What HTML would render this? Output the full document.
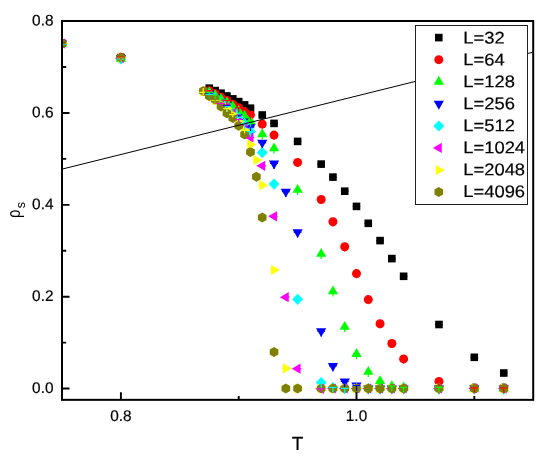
<!DOCTYPE html>
<html><head><meta charset="utf-8"><title>plot</title><style>html,body{margin:0;padding:0;background:#fff}</style></head><body>
<svg width="550" height="459" viewBox="0 0 550 459" style="display:block;font-family:'Liberation Sans',sans-serif">
<rect width="550" height="459" fill="#fff"/>
<defs><clipPath id="cp"><rect x="62" y="21" width="471.2" height="378.85"/></clipPath></defs>
<g clip-path="url(#cp)">
<g>
<rect x="58.2" y="39.5" width="7.6" height="7.6" fill="#000000"/>
<rect x="117.1" y="53.8" width="7.6" height="7.6" fill="#000000"/>
<rect x="205.45" y="84.4" width="7.6" height="7.6" fill="#000000"/>
<rect x="211.34" y="86.8" width="7.6" height="7.6" fill="#000000"/>
<rect x="217.23" y="89.4" width="7.6" height="7.6" fill="#000000"/>
<rect x="223.12" y="92.2" width="7.6" height="7.6" fill="#000000"/>
<rect x="229.01" y="95.1" width="7.6" height="7.6" fill="#000000"/>
<rect x="234.9" y="97.8" width="7.6" height="7.6" fill="#000000"/>
<rect x="240.79" y="101.1" width="7.6" height="7.6" fill="#000000"/>
<rect x="246.68" y="104.4" width="7.6" height="7.6" fill="#000000"/>
<rect x="258.46" y="111.2" width="7.6" height="7.6" fill="#000000"/>
<rect x="270.24" y="119.6" width="7.6" height="7.6" fill="#000000"/>
<rect x="293.8" y="137.6" width="7.6" height="7.6" fill="#000000"/>
<rect x="317.36" y="160.3" width="7.6" height="7.6" fill="#000000"/>
<rect x="329.14" y="173.3" width="7.6" height="7.6" fill="#000000"/>
<rect x="340.92" y="187.4" width="7.6" height="7.6" fill="#000000"/>
<rect x="352.7" y="202.6" width="7.6" height="7.6" fill="#000000"/>
<rect x="364.48" y="219.5" width="7.6" height="7.6" fill="#000000"/>
<rect x="376.26" y="236.8" width="7.6" height="7.6" fill="#000000"/>
<rect x="388.04" y="254.8" width="7.6" height="7.6" fill="#000000"/>
<rect x="399.82" y="272.5" width="7.6" height="7.6" fill="#000000"/>
<rect x="435.16" y="320.7" width="7.6" height="7.6" fill="#000000"/>
<rect x="470.5" y="353.5" width="7.6" height="7.6" fill="#000000"/>
<rect x="499.95" y="369.2" width="7.6" height="7.6" fill="#000000"/>
</g>
<g>
<circle cx="62" cy="43.3" r="4.5" fill="#ff0000"/>
<circle cx="120.9" cy="57.2" r="4.5" fill="#ff0000"/>
<circle cx="209.25" cy="90.7" r="4.5" fill="#ff0000"/>
<circle cx="215.14" cy="93.8" r="4.5" fill="#ff0000"/>
<circle cx="221.03" cy="97.2" r="4.5" fill="#ff0000"/>
<circle cx="226.92" cy="100.5" r="4.5" fill="#ff0000"/>
<circle cx="232.81" cy="104.2" r="4.5" fill="#ff0000"/>
<circle cx="238.7" cy="107.8" r="4.5" fill="#ff0000"/>
<circle cx="244.59" cy="111.5" r="4.5" fill="#ff0000"/>
<circle cx="250.48" cy="114.7" r="4.5" fill="#ff0000"/>
<circle cx="262.26" cy="124.1" r="4.5" fill="#ff0000"/>
<circle cx="274.04" cy="135.1" r="4.5" fill="#ff0000"/>
<circle cx="297.6" cy="162.4" r="4.5" fill="#ff0000"/>
<circle cx="321.16" cy="199.5" r="4.5" fill="#ff0000"/>
<circle cx="332.94" cy="221.8" r="4.5" fill="#ff0000"/>
<circle cx="344.72" cy="246.8" r="4.5" fill="#ff0000"/>
<circle cx="356.5" cy="273.6" r="4.5" fill="#ff0000"/>
<circle cx="368.28" cy="299.6" r="4.5" fill="#ff0000"/>
<circle cx="380.06" cy="323.7" r="4.5" fill="#ff0000"/>
<circle cx="391.84" cy="343.5" r="4.5" fill="#ff0000"/>
<circle cx="403.62" cy="358.9" r="4.5" fill="#ff0000"/>
<circle cx="438.96" cy="381.4" r="4.5" fill="#ff0000"/>
<circle cx="474.3" cy="387.8" r="4.5" fill="#ff0000"/>
<circle cx="503.75" cy="387.8" r="4.5" fill="#ff0000"/>
</g>
<g>
<polygon points="62,49.4 56.89,40.55 67.11,40.55" fill="#0000ff"/>
<polygon points="120.9,63.9 115.79,55.05 126.01,55.05" fill="#0000ff"/>
<polygon points="209.25,99.4 204.14,90.55 214.36,90.55" fill="#0000ff"/>
<polygon points="215.14,103.2 210.03,94.35 220.25,94.35" fill="#0000ff"/>
<polygon points="221.03,107.3 215.92,98.45 226.14,98.45" fill="#0000ff"/>
<polygon points="226.92,111.2 221.81,102.35 232.03,102.35" fill="#0000ff"/>
<polygon points="232.81,115.9 227.7,107.05 237.92,107.05" fill="#0000ff"/>
<polygon points="238.7,120.9 233.59,112.05 243.81,112.05" fill="#0000ff"/>
<polygon points="244.59,126.4 239.48,117.55 249.7,117.55" fill="#0000ff"/>
<polygon points="250.48,132.9 245.37,124.05 255.59,124.05" fill="#0000ff"/>
<polygon points="262.26,148.6 257.15,139.75 267.37,139.75" fill="#0000ff"/>
<polygon points="274.04,169.4 268.93,160.55 279.15,160.55" fill="#0000ff"/>
<polygon points="285.82,197.5 280.71,188.65 290.93,188.65" fill="#0000ff"/>
<polygon points="297.6,238.1 292.49,229.25 302.71,229.25" fill="#0000ff"/>
<polygon points="321.16,337 316.05,328.15 326.27,328.15" fill="#0000ff"/>
<polygon points="332.94,371.8 327.83,362.95 338.05,362.95" fill="#0000ff"/>
<polygon points="344.72,387.4 339.61,378.55 349.83,378.55" fill="#0000ff"/>
<polygon points="356.5,391.4 351.39,382.55 361.61,382.55" fill="#0000ff"/>
<polygon points="368.28,394.4 363.17,385.55 373.39,385.55" fill="#0000ff"/>
<polygon points="380.06,394.4 374.95,385.55 385.17,385.55" fill="#0000ff"/>
<polygon points="391.84,394.4 386.73,385.55 396.95,385.55" fill="#0000ff"/>
<polygon points="403.62,394.4 398.51,385.55 408.73,385.55" fill="#0000ff"/>
<polygon points="438.96,394.4 433.85,385.55 444.07,385.55" fill="#0000ff"/>
<polygon points="474.3,394.4 469.19,385.55 479.41,385.55" fill="#0000ff"/>
<polygon points="503.75,394.4 498.64,385.55 508.86,385.55" fill="#0000ff"/>
</g>
<g>
<polygon points="62,37.9 56.89,46.75 67.11,46.75" fill="#00ff00"/>
<polygon points="120.9,53 115.79,61.85 126.01,61.85" fill="#00ff00"/>
<polygon points="209.25,86.4 204.14,95.25 214.36,95.25" fill="#00ff00"/>
<polygon points="215.14,89.3 210.03,98.15 220.25,98.15" fill="#00ff00"/>
<polygon points="221.03,92.9 215.92,101.75 226.14,101.75" fill="#00ff00"/>
<polygon points="226.92,96.4 221.81,105.25 232.03,105.25" fill="#00ff00"/>
<polygon points="232.81,100.5 227.7,109.35 237.92,109.35" fill="#00ff00"/>
<polygon points="238.7,105.1 233.59,113.95 243.81,113.95" fill="#00ff00"/>
<polygon points="244.59,109.7 239.48,118.55 249.7,118.55" fill="#00ff00"/>
<polygon points="250.48,115.3 245.37,124.15 255.59,124.15" fill="#00ff00"/>
<polygon points="262.26,128.3 257.15,137.15 267.37,137.15" fill="#00ff00"/>
<polygon points="274.04,142.5 268.93,151.35 279.15,151.35" fill="#00ff00"/>
<polygon points="297.6,184 292.49,192.85 302.71,192.85" fill="#00ff00"/>
<polygon points="321.16,248 316.05,256.85 326.27,256.85" fill="#00ff00"/>
<polygon points="332.94,285.5 327.83,294.35 338.05,294.35" fill="#00ff00"/>
<polygon points="344.72,321 339.61,329.85 349.83,329.85" fill="#00ff00"/>
<polygon points="356.5,348.1 351.39,356.95 361.61,356.95" fill="#00ff00"/>
<polygon points="368.28,365.9 363.17,374.75 373.39,374.75" fill="#00ff00"/>
<polygon points="380.06,375.2 374.95,384.05 385.17,384.05" fill="#00ff00"/>
<polygon points="391.84,380.2 386.73,389.05 396.95,389.05" fill="#00ff00"/>
<polygon points="403.62,381.5 398.51,390.35 408.73,390.35" fill="#00ff00"/>
<polygon points="438.96,381.4 433.85,390.25 444.07,390.25" fill="#00ff00"/>
<polygon points="474.3,382.6 469.19,391.45 479.41,391.45" fill="#00ff00"/>
<polygon points="503.75,382.6 498.64,391.45 508.86,391.45" fill="#00ff00"/>
</g>
<g>
<polygon points="62,38.3 67.5,43.8 62,49.3 56.5,43.8" fill="#00ffff"/>
<polygon points="120.9,53.4 126.4,58.9 120.9,64.4 115.4,58.9" fill="#00ffff"/>
<polygon points="209.25,88.9 214.75,94.4 209.25,99.9 203.75,94.4" fill="#00ffff"/>
<polygon points="215.14,92.8 220.64,98.3 215.14,103.8 209.64,98.3" fill="#00ffff"/>
<polygon points="221.03,97 226.53,102.5 221.03,108 215.53,102.5" fill="#00ffff"/>
<polygon points="226.92,101 232.42,106.5 226.92,112 221.42,106.5" fill="#00ffff"/>
<polygon points="232.81,106.2 238.31,111.7 232.81,117.2 227.31,111.7" fill="#00ffff"/>
<polygon points="238.7,111.9 244.2,117.4 238.7,122.9 233.2,117.4" fill="#00ffff"/>
<polygon points="244.59,118.1 250.09,123.6 244.59,129.1 239.09,123.6" fill="#00ffff"/>
<polygon points="250.48,126.1 255.98,131.6 250.48,137.1 244.98,131.6" fill="#00ffff"/>
<polygon points="262.26,147.1 267.76,152.6 262.26,158.1 256.76,152.6" fill="#00ffff"/>
<polygon points="274.04,178.5 279.54,184 274.04,189.5 268.54,184" fill="#00ffff"/>
<polygon points="297.6,293.8 303.1,299.3 297.6,304.8 292.1,299.3" fill="#00ffff"/>
<polygon points="321.16,377 326.66,382.5 321.16,388 315.66,382.5" fill="#00ffff"/>
<polygon points="332.94,381.9 338.44,387.4 332.94,392.9 327.44,387.4" fill="#00ffff"/>
<polygon points="344.72,382.8 350.22,388.3 344.72,393.8 339.22,388.3" fill="#00ffff"/>
<polygon points="356.5,383 362,388.5 356.5,394 351,388.5" fill="#00ffff"/>
<polygon points="368.28,383 373.78,388.5 368.28,394 362.78,388.5" fill="#00ffff"/>
<polygon points="380.06,383 385.56,388.5 380.06,394 374.56,388.5" fill="#00ffff"/>
<polygon points="391.84,383 397.34,388.5 391.84,394 386.34,388.5" fill="#00ffff"/>
<polygon points="403.62,383 409.12,388.5 403.62,394 398.12,388.5" fill="#00ffff"/>
<polygon points="438.96,383 444.46,388.5 438.96,394 433.46,388.5" fill="#00ffff"/>
<polygon points="474.3,383 479.8,388.5 474.3,394 468.8,388.5" fill="#00ffff"/>
<polygon points="503.75,383 509.25,388.5 503.75,394 498.25,388.5" fill="#00ffff"/>
</g>
<g>
<polygon points="56.1,43.5 64.95,38.39 64.95,48.61" fill="#ff00ff"/>
<polygon points="115,58 123.85,52.89 123.85,63.11" fill="#ff00ff"/>
<polygon points="203.35,94.9 212.2,89.79 212.2,100.01" fill="#ff00ff"/>
<polygon points="209.24,98.9 218.09,93.79 218.09,104.01" fill="#ff00ff"/>
<polygon points="215.13,103.3 223.98,98.19 223.98,108.41" fill="#ff00ff"/>
<polygon points="221.02,107.5 229.87,102.39 229.87,112.61" fill="#ff00ff"/>
<polygon points="226.91,113.2 235.76,108.09 235.76,118.31" fill="#ff00ff"/>
<polygon points="232.8,119.5 241.65,114.39 241.65,124.61" fill="#ff00ff"/>
<polygon points="238.69,126.8 247.54,121.69 247.54,131.91" fill="#ff00ff"/>
<polygon points="244.58,137.5 253.43,132.39 253.43,142.61" fill="#ff00ff"/>
<polygon points="256.36,165.8 265.21,160.69 265.21,170.91" fill="#ff00ff"/>
<polygon points="268.14,216.3 276.99,211.19 276.99,221.41" fill="#ff00ff"/>
<polygon points="279.92,297.2 288.77,292.09 288.77,302.31" fill="#ff00ff"/>
<polygon points="291.7,368.7 300.55,363.59 300.55,373.81" fill="#ff00ff"/>
<polygon points="315.26,388.8 324.11,383.69 324.11,393.91" fill="#ff00ff"/>
<polygon points="327.04,388.5 335.89,383.39 335.89,393.61" fill="#ff00ff"/>
<polygon points="338.82,388.5 347.67,383.39 347.67,393.61" fill="#ff00ff"/>
<polygon points="350.6,388.5 359.45,383.39 359.45,393.61" fill="#ff00ff"/>
<polygon points="362.38,388.5 371.23,383.39 371.23,393.61" fill="#ff00ff"/>
<polygon points="374.16,388.5 383.01,383.39 383.01,393.61" fill="#ff00ff"/>
<polygon points="385.94,388.5 394.79,383.39 394.79,393.61" fill="#ff00ff"/>
<polygon points="397.72,388.5 406.57,383.39 406.57,393.61" fill="#ff00ff"/>
<polygon points="433.06,388.5 441.91,383.39 441.91,393.61" fill="#ff00ff"/>
<polygon points="468.4,388.5 477.25,383.39 477.25,393.61" fill="#ff00ff"/>
<polygon points="497.85,388.5 506.7,383.39 506.7,393.61" fill="#ff00ff"/>
</g>
<g>
<polygon points="67.9,43.5 59.05,38.39 59.05,48.61" fill="#ffff00"/>
<polygon points="126.8,58 117.95,52.89 117.95,63.11" fill="#ffff00"/>
<polygon points="209.26,91.6 200.41,86.49 200.41,96.71" fill="#ffff00"/>
<polygon points="215.15,95.3 206.3,90.19 206.3,100.41" fill="#ffff00"/>
<polygon points="221.04,100.4 212.19,95.29 212.19,105.51" fill="#ffff00"/>
<polygon points="226.93,104 218.08,98.89 218.08,109.11" fill="#ffff00"/>
<polygon points="232.82,108.5 223.97,103.39 223.97,113.61" fill="#ffff00"/>
<polygon points="238.71,114.6 229.86,109.49 229.86,119.71" fill="#ffff00"/>
<polygon points="244.6,121.5 235.75,116.39 235.75,126.61" fill="#ffff00"/>
<polygon points="250.49,130.3 241.64,125.19 241.64,135.41" fill="#ffff00"/>
<polygon points="256.38,144.6 247.53,139.49 247.53,149.71" fill="#ffff00"/>
<polygon points="262.27,160 253.42,154.89 253.42,165.11" fill="#ffff00"/>
<polygon points="268.16,185.2 259.31,180.09 259.31,190.31" fill="#ffff00"/>
<polygon points="279.94,270 271.09,264.89 271.09,275.11" fill="#ffff00"/>
<polygon points="291.72,368.4 282.87,363.29 282.87,373.51" fill="#ffff00"/>
<polygon points="303.5,388.5 294.65,383.39 294.65,393.61" fill="#ffff00"/>
<polygon points="327.06,388.5 318.21,383.39 318.21,393.61" fill="#ffff00"/>
<polygon points="338.84,388.5 329.99,383.39 329.99,393.61" fill="#ffff00"/>
<polygon points="350.62,388.5 341.77,383.39 341.77,393.61" fill="#ffff00"/>
<polygon points="362.4,388.5 353.55,383.39 353.55,393.61" fill="#ffff00"/>
<polygon points="374.18,388.5 365.33,383.39 365.33,393.61" fill="#ffff00"/>
<polygon points="385.96,388.5 377.11,383.39 377.11,393.61" fill="#ffff00"/>
<polygon points="397.74,388.5 388.89,383.39 388.89,393.61" fill="#ffff00"/>
<polygon points="409.52,388.5 400.67,383.39 400.67,393.61" fill="#ffff00"/>
<polygon points="444.86,388.5 436.01,383.39 436.01,393.61" fill="#ffff00"/>
<polygon points="480.2,388.5 471.35,383.39 471.35,393.61" fill="#ffff00"/>
<polygon points="509.65,388.5 500.8,383.39 500.8,393.61" fill="#ffff00"/>
</g>
<g>
<polygon points="62,38.5 66.33,41 66.33,46 62,48.5 57.67,46 57.67,41" fill="#808000"/>
<polygon points="120.9,52.8 125.23,55.3 125.23,60.3 120.9,62.8 116.57,60.3 116.57,55.3" fill="#808000"/>
<polygon points="203.36,86 207.69,88.5 207.69,93.5 203.36,96 199.03,93.5 199.03,88.5" fill="#808000"/>
<polygon points="209.25,90.9 213.58,93.4 213.58,98.4 209.25,100.9 204.92,98.4 204.92,93.4" fill="#808000"/>
<polygon points="215.14,94.6 219.47,97.1 219.47,102.1 215.14,104.6 210.81,102.1 210.81,97.1" fill="#808000"/>
<polygon points="221.03,101.4 225.36,103.9 225.36,108.9 221.03,111.4 216.7,108.9 216.7,103.9" fill="#808000"/>
<polygon points="226.92,108.3 231.25,110.8 231.25,115.8 226.92,118.3 222.59,115.8 222.59,110.8" fill="#808000"/>
<polygon points="232.81,113 237.14,115.5 237.14,120.5 232.81,123 228.48,120.5 228.48,115.5" fill="#808000"/>
<polygon points="238.7,120.7 243.03,123.2 243.03,128.2 238.7,130.7 234.37,128.2 234.37,123.2" fill="#808000"/>
<polygon points="244.59,129.4 248.92,131.9 248.92,136.9 244.59,139.4 240.26,136.9 240.26,131.9" fill="#808000"/>
<polygon points="250.48,146.9 254.81,149.4 254.81,154.4 250.48,156.9 246.15,154.4 246.15,149.4" fill="#808000"/>
<polygon points="256.37,171.7 260.7,174.2 260.7,179.2 256.37,181.7 252.04,179.2 252.04,174.2" fill="#808000"/>
<polygon points="262.26,212.4 266.59,214.9 266.59,219.9 262.26,222.4 257.93,219.9 257.93,214.9" fill="#808000"/>
<polygon points="274.04,346.9 278.37,349.4 278.37,354.4 274.04,356.9 269.71,354.4 269.71,349.4" fill="#808000"/>
<polygon points="285.82,383.5 290.15,386 290.15,391 285.82,393.5 281.49,391 281.49,386" fill="#808000"/>
<polygon points="297.6,383.5 301.93,386 301.93,391 297.6,393.5 293.27,391 293.27,386" fill="#808000"/>
<polygon points="321.16,383.5 325.49,386 325.49,391 321.16,393.5 316.83,391 316.83,386" fill="#808000"/>
<polygon points="332.94,383.5 337.27,386 337.27,391 332.94,393.5 328.61,391 328.61,386" fill="#808000"/>
<polygon points="344.72,383.5 349.05,386 349.05,391 344.72,393.5 340.39,391 340.39,386" fill="#808000"/>
<polygon points="356.5,383.5 360.83,386 360.83,391 356.5,393.5 352.17,391 352.17,386" fill="#808000"/>
<polygon points="368.28,383.5 372.61,386 372.61,391 368.28,393.5 363.95,391 363.95,386" fill="#808000"/>
<polygon points="380.06,383.5 384.39,386 384.39,391 380.06,393.5 375.73,391 375.73,386" fill="#808000"/>
<polygon points="391.84,383.5 396.17,386 396.17,391 391.84,393.5 387.51,391 387.51,386" fill="#808000"/>
<polygon points="403.62,383.5 407.95,386 407.95,391 403.62,393.5 399.29,391 399.29,386" fill="#808000"/>
<polygon points="438.96,383.5 443.29,386 443.29,391 438.96,393.5 434.63,391 434.63,386" fill="#808000"/>
<polygon points="474.3,383.5 478.63,386 478.63,391 474.3,393.5 469.97,391 469.97,386" fill="#808000"/>
<polygon points="503.75,383.5 508.08,386 508.08,391 503.75,393.5 499.42,391 499.42,386" fill="#808000"/>
</g>
<path d="M58.3 43.3H65.7M62 43.3V46.7M117.2 57.6H124.6M120.9 57.6V61M246.78 108.2H254.18M250.48 108.2V111.6M258.56 115H265.96M262.26 115V118.4M270.34 123.4H277.74M274.04 123.4V126.8M293.9 141.4H301.3M297.6 141.4V144.8M317.46 164.1H324.86M321.16 164.1V167.5M329.24 177.1H336.64M332.94 177.1V180.5M341.02 191.2H348.42M344.72 191.2V194.6M352.8 206.4H360.2M356.5 206.4V209.8M364.58 223.3H371.98M368.28 223.3V226.7M376.36 240.6H383.76M380.06 240.6V244M388.14 258.6H395.54M391.84 258.6V262M399.92 276.3H407.32M403.62 276.3V279.7M435.26 324.5H442.66M438.96 324.5V327.9M470.6 357.3H478M474.3 357.3V360.7M500.05 373H507.45M503.75 373V376.4" stroke="#000000" stroke-width="1.2" fill="none"/>
<path d="M58.2 43.3H65.8M62 43.3V46.7M117.1 57.2H124.7M120.9 57.2V60.6M205.45 90.7H213.05M209.25 90.7V95.3M223.12 100.5H230.72M226.92 100.5V105.1M234.9 107.8H242.5M238.7 107.8V112.4M246.68 114.7H254.28M250.48 114.7V119.3M258.46 124.1H266.06M262.26 124.1V128.7M270.24 135.1H277.84M274.04 135.1V139.7M293.8 162.4H301.4M297.6 162.4V167M317.36 199.5H324.96M321.16 199.5V204.1M329.14 221.8H336.74M332.94 221.8V226.4M340.92 246.8H348.52M344.72 246.8V251.4M352.7 273.6H360.3M356.5 273.6V278.2M364.48 299.6H372.08M368.28 299.6V304.2M376.26 323.7H383.86M380.06 323.7V328.3M388.04 343.5H395.64M391.84 343.5V348.1M399.82 358.9H407.42M403.62 358.9V363.5M435.16 381.4H442.76M438.96 381.4V386M470.5 387.8H478.1M474.3 387.8V392.4M499.95 387.8H507.55M503.75 387.8V392.4" stroke="#ff0000" stroke-width="1.2" fill="none"/>
<path d="M58.1 43.5H65.9M62 43.5V46.9M117 58H124.8M120.9 58V61.4M205.35 93.5H213.15M209.25 93.5V98.9M223.02 105.3H230.82M226.92 105.3V110.7M234.8 115H242.6M238.7 115V120.4M246.58 127H254.38M250.48 127V132.4M258.36 142.7H266.16M262.26 142.7V148.1M270.14 163.5H277.94M274.04 163.5V168.9M281.92 191.6H289.72M285.82 191.6V197M293.7 232.2H301.5M297.6 232.2V237.6M317.26 331.1H325.06M321.16 331.1V336.5M329.04 365.9H336.84M332.94 365.9V371.3M340.82 381.5H348.62M344.72 381.5V386.9M352.6 385.5H360.4M356.5 385.5V390.9" stroke="#0000ff" stroke-width="1.2" fill="none"/>
<path d="M58.7 43.8H65.3M62 43.8V47.2M117.6 58.9H124.2M120.9 58.9V62.3M205.95 92.3H212.55M209.25 92.3V97.5M211.84 95.2H218.44M215.14 95.2V100.4M217.73 98.8H224.33M221.03 98.8V104M229.51 106.4H236.11M232.81 106.4V111.6M241.29 115.6H247.89M244.59 115.6V120.8M247.18 121.2H253.78M250.48 121.2V126.4M258.96 134.2H265.56M262.26 134.2V139.4M270.74 148.4H277.34M274.04 148.4V153.6M294.3 189.9H300.9M297.6 189.9V195.1M317.86 253.9H324.46M321.16 253.9V259.1M329.64 291.4H336.24M332.94 291.4V296.6M341.42 326.9H348.02M344.72 326.9V332.1M353.2 354H359.8M356.5 354V359.2M364.98 371.8H371.58M368.28 371.8V377M376.76 381.1H383.36M380.06 381.1V386.3M388.54 386.1H395.14M391.84 386.1V391.3M400.32 387.4H406.92M403.62 387.4V392.6M435.66 387.3H442.26M438.96 387.3V392.5" stroke="#00ff00" stroke-width="1.2" fill="none"/>
<path d="M58.3 43.8H65.7M62 43.8V47.2M117.2 58.9H124.6M120.9 58.9V62.3M205.55 94.4H212.95M209.25 94.4V99.6M223.22 106.5H230.62M226.92 106.5V111.7M235 117.4H242.4M238.7 117.4V122.6M240.89 123.6H248.29M244.59 123.6V128.8M246.78 131.6H254.18M250.48 131.6V136.8M258.56 152.6H265.96M262.26 152.6V157.8M270.34 184H277.74M274.04 184V189.2M293.9 299.3H301.3M297.6 299.3V304.5M317.46 382.5H324.86M321.16 382.5V387.7M329.24 387.4H336.64M332.94 387.4V392.6M341.02 388.3H348.42M344.72 388.3V393.5" stroke="#00ffff" stroke-width="1.2" fill="none"/>
<path d="M58.3 43.5H65.7M62 43.5V46.7M117.2 58H124.6M120.9 58V61.2M217.33 103.3H224.73M221.03 103.3V106.5M235 119.5H242.4M238.7 119.5V122.7M246.78 137.5H254.18M250.48 137.5V140.7M258.56 165.8H265.96M262.26 165.8V169M270.34 216.3H277.74M274.04 216.3V219.5M282.12 297.2H289.52M285.82 297.2V300.4M293.9 368.7H301.3M297.6 368.7V371.9M317.46 388.8H324.86M321.16 388.8V392" stroke="#ff00ff" stroke-width="1.2" fill="none"/>
<path d="M58.3 43.5H65.7M62 43.5V46.7M117.2 58H124.6M120.9 58V61.2M211.44 100.4H218.84M215.14 100.4V103.6M223.22 108.5H230.62M226.92 108.5V111.7M229.11 114.6H236.51M232.81 114.6V117.8M240.89 130.3H248.29M244.59 130.3V133.5M246.78 144.6H254.18M250.48 144.6V147.8M252.67 160H260.07M256.37 160V163.2M258.56 185.2H265.96M262.26 185.2V188.4M270.34 270H277.74M274.04 270V273.2M282.12 368.4H289.52M285.82 368.4V371.6" stroke="#ffff00" stroke-width="1.2" fill="none"/>
<path d="M58.3 43.5H65.7M62 43.5V46.9M117.2 57.8H124.6M120.9 57.8V61.2M199.66 91H207.06M203.36 91V95.6M205.55 95.9H212.95M209.25 95.9V100.5M211.44 99.6H218.84M215.14 99.6V104.2M217.33 106.4H224.73M221.03 106.4V111M223.22 113.3H230.62M226.92 113.3V117.9M229.11 118H236.51M232.81 118V122.6M235 125.7H242.4M238.7 125.7V130.3M240.89 134.4H248.29M244.59 134.4V139M246.78 151.9H254.18M250.48 151.9V156.5M252.67 176.7H260.07M256.37 176.7V181.3M258.56 217.4H265.96M262.26 217.4V222M270.34 351.9H277.74M274.04 351.9V356.5" stroke="#808000" stroke-width="1.2" fill="none"/>
<path d="M199.3 92.4H204.8M203.2 88V95.6" stroke="#ffff00" stroke-width="1.2" fill="none"/>
<line x1="62" y1="169.11" x2="533.2" y2="52.17" stroke="#000" stroke-width="1"/>
</g>
<rect x="62" y="21" width="471.2" height="378.85" fill="none" stroke="#000" stroke-width="2"/>
<path d="M62 388.52H69.5M62 342.6H66.2M62 296.68H69.5M62 250.76H66.2M62 204.83H69.5M62 158.91H66.2M62 112.99H69.5M62 67.07H66.2M120.9 399.85V392.35M238.7 399.85V396.05M356.5 399.85V392.35M474.3 399.85V396.05" stroke="#000" stroke-width="1.9" fill="none"/>
<g font-size="15.4" fill="#000" stroke="#000" stroke-width="0.2">
<text transform="translate(53.5,392.92) rotate(0.05)" text-anchor="end">0.0</text>
<text transform="translate(53.5,301.08) rotate(0.05)" text-anchor="end">0.2</text>
<text transform="translate(53.5,209.23) rotate(0.05)" text-anchor="end">0.4</text>
<text transform="translate(53.5,117.39) rotate(0.05)" text-anchor="end">0.6</text>
<text transform="translate(53.5,25.55) rotate(0.05)" text-anchor="end">0.8</text>
<text transform="translate(120.9,420.9) rotate(0.05)" text-anchor="middle">0.8</text>
<text transform="translate(356.5,420.9) rotate(0.05)" text-anchor="middle">1.0</text>
</g>
<text transform="translate(297.5,450) rotate(0.05)" font-size="19" text-anchor="middle" fill="#000" stroke="#000" stroke-width="0.2">T</text>
<text transform="translate(19.7,218) rotate(-90) scale(0.8,1)" font-size="18.5" fill="#000">ρ</text>
<text transform="translate(25.3,208.2) rotate(-90)" font-size="12.5" fill="#000">s</text>
<rect x="415.5" y="25.5" width="112" height="179" fill="#fff" stroke="#222" stroke-width="1"/>
<rect x="435" y="33.8" width="7.6" height="7.6" fill="#000000"/>
<text transform="translate(463.3,43.4) rotate(0.05) scale(1.08,1)" font-size="17" fill="#000" stroke="#000" stroke-width="0.2">L=32</text>
<circle cx="438.8" cy="59.67" r="4.5" fill="#ff0000"/>
<text transform="translate(463.3,65.36) rotate(0.05) scale(1.08,1)" font-size="17" fill="#000" stroke="#000" stroke-width="0.2">L=64</text>
<polygon points="438.8,75.84 433.69,84.69 443.91,84.69" fill="#00ff00"/>
<text transform="translate(463.3,87.32) rotate(0.05) scale(1.08,1)" font-size="17" fill="#000" stroke="#000" stroke-width="0.2">L=128</text>
<polygon points="438.8,109.71 433.69,100.86 443.91,100.86" fill="#0000ff"/>
<text transform="translate(463.3,109.28) rotate(0.05) scale(1.08,1)" font-size="17" fill="#000" stroke="#000" stroke-width="0.2">L=256</text>
<polygon points="438.8,120.38 444.3,125.88 438.8,131.38 433.3,125.88" fill="#00ffff"/>
<text transform="translate(463.3,131.24) rotate(0.05) scale(1.08,1)" font-size="17" fill="#000" stroke="#000" stroke-width="0.2">L=512</text>
<polygon points="432.9,147.95 441.75,142.84 441.75,153.06" fill="#ff00ff"/>
<text transform="translate(463.3,153.2) rotate(0.05) scale(1.08,1)" font-size="17" fill="#000" stroke="#000" stroke-width="0.2">L=1024</text>
<polygon points="444.7,170.02 435.85,164.91 435.85,175.13" fill="#ffff00"/>
<text transform="translate(463.3,175.16) rotate(0.05) scale(1.08,1)" font-size="17" fill="#000" stroke="#000" stroke-width="0.2">L=2048</text>
<polygon points="438.8,187.09 443.13,189.59 443.13,194.59 438.8,197.09 434.47,194.59 434.47,189.59" fill="#808000"/>
<text transform="translate(463.3,197.12) rotate(0.05) scale(1.08,1)" font-size="17" fill="#000" stroke="#000" stroke-width="0.2">L=4096</text>
</svg>
</body></html>
